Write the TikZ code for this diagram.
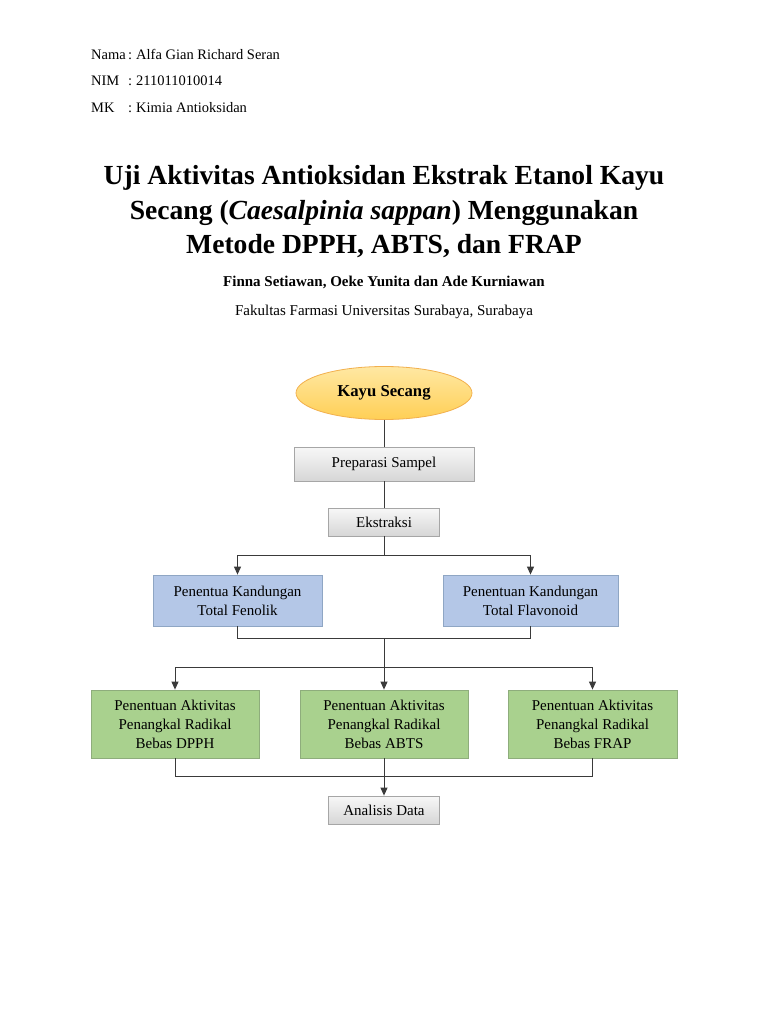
\documentclass[tikz,border=0pt]{standalone}
\usepackage{fontspec}
\setmainfont{Liberation Serif}
\usetikzlibrary{arrows.meta,shapes.geometric}
\definecolor{lnc}{HTML}{3A3A3A}
\definecolor{bluef}{HTML}{B4C7E7}
\definecolor{blued}{HTML}{8FA6C4}
\definecolor{greenf}{HTML}{A9D18E}
\definecolor{greend}{HTML}{8EAD7C}
\definecolor{grayd}{HTML}{A6A6A6}
\definecolor{elltop}{HTML}{FFE8A3}
\definecolor{ellbot}{HTML}{FFCF55}
\definecolor{elld}{HTML}{F2B04E}
\begin{document}
\begin{tikzpicture}[x=1pt,y=-1pt,
  hdr/.style={anchor=base west,inner sep=0pt,font=\fontsize{14.5}{17}\selectfont},
  ttl/.style={anchor=base,inner sep=0pt,font=\fontsize{27.6}{32}\bfseries\selectfont},
  boxtxt/.style={align=center,font=\fontsize{15}{19}\selectfont,inner sep=0pt},
  graybox/.style={boxtxt,draw=grayd,top color=gray!6,bottom color=gray!32,line width=0.8pt},
  bluebox/.style={boxtxt,draw=blued,fill=bluef,line width=0.8pt},
  greenbox/.style={boxtxt,draw=greend,fill=greenf,line width=0.8pt},
  ln/.style={draw=lnc,line width=1pt},
  arr/.style={ln,-{Triangle[length=8pt,width=7pt]}}]
\useasboundingbox (0,0) rectangle (768,1024);
\fill[white] (0,0) rectangle (768,1024);
% header
\node[hdr] (h1) at (91,60) {\makebox[37pt][l]{Nama}:\hspace{4pt}Alfa Gian Richard Seran};
\node[hdr] (h2) at (91,86) {\makebox[37pt][l]{NIM}:\hspace{4pt}211011010014};
\node[hdr] (h3) at (91,113) {\makebox[37pt][l]{MK}:\hspace{4pt}Kimia Antioksidan};
% title
\node[ttl] (t1) at (384,185) {Uji Aktivitas Antioksidan Ekstrak Etanol Kayu};
\node[ttl] (t2) at (384,219) {Secang (\textit{Caesalpinia sappan}) Menggunakan};
\node[ttl] (t3) at (384,253) {Metode DPPH, ABTS, dan FRAP};
\node[anchor=base,inner sep=0pt,font=\fontsize{15}{17}\bfseries\selectfont] (au) at (384,286) {Finna Setiawan, Oeke Yunita dan Ade Kurniawan};
\node[anchor=base,inner sep=0pt,font=\fontsize{15}{17}\selectfont] (af) at (384,315) {Fakultas Farmasi Universitas Surabaya, Surabaya};
% flowchart
\node[ellipse,draw=elld,line width=0.8pt,top color=elltop,bottom color=ellbot,
  minimum width=176pt,minimum height=53pt,inner sep=0pt,font=\fontsize{16.7}{19}\bfseries\selectfont] (ks) at (384,393) {Kayu Secang};
\node[graybox,minimum width=180pt,minimum height=34pt] (prep) at (384,464) {Preparasi Sampel};
\node[graybox,minimum width=111pt,minimum height=28pt] (eks) at (384,522) {Ekstraksi};
\node[bluebox,minimum width=169pt,minimum height=51pt] (b1) at (237.5,600.5) {Penentua Kandungan\\Total Fenolik};
\node[bluebox,minimum width=175pt,minimum height=51pt] (b2) at (530.5,600.5) {Penentuan Kandungan\\Total Flavonoid};
\node[greenbox,minimum width=168pt,minimum height=68pt] (g1) at (175,724) {Penentuan Aktivitas\\Penangkal Radikal\\Bebas DPPH};
\node[greenbox,minimum width=168pt,minimum height=68pt] (g2) at (384,724) {Penentuan Aktivitas\\Penangkal Radikal\\Bebas ABTS};
\node[greenbox,minimum width=169pt,minimum height=68pt] (g3) at (592.5,724) {Penentuan Aktivitas\\Penangkal Radikal\\Bebas FRAP};
\node[graybox,minimum width=111pt,minimum height=28pt] (an) at (384,810) {Analisis Data};
\coordinate (j1) at (384,555);
\coordinate (j2) at (384,638);
\coordinate (j3) at (384,667);
\coordinate (j4) at (384,776);
\draw[ln] (ks.south) -- (prep.north);
\draw[ln] (prep.south) -- (eks.north);
\draw[ln] (eks.south) -- (j1);
\draw[arr] (j1) -| (b1.north);
\draw[arr] (j1) -| (b2.north);
\draw[ln] (b1.south) |- (j2);
\draw[ln] (b2.south) |- (j2);
\draw[ln] (j2) -- (j3);
\draw[arr] (j3) -| (g1.north);
\draw[arr] (j3) -- (g2.north);
\draw[arr] (j3) -| (g3.north);
\draw[ln] (g1.south) |- (j4);
\draw[ln] (g3.south) |- (j4);
\draw[arr] (g2.south) -- (an.north);
\end{tikzpicture}
\end{document}
